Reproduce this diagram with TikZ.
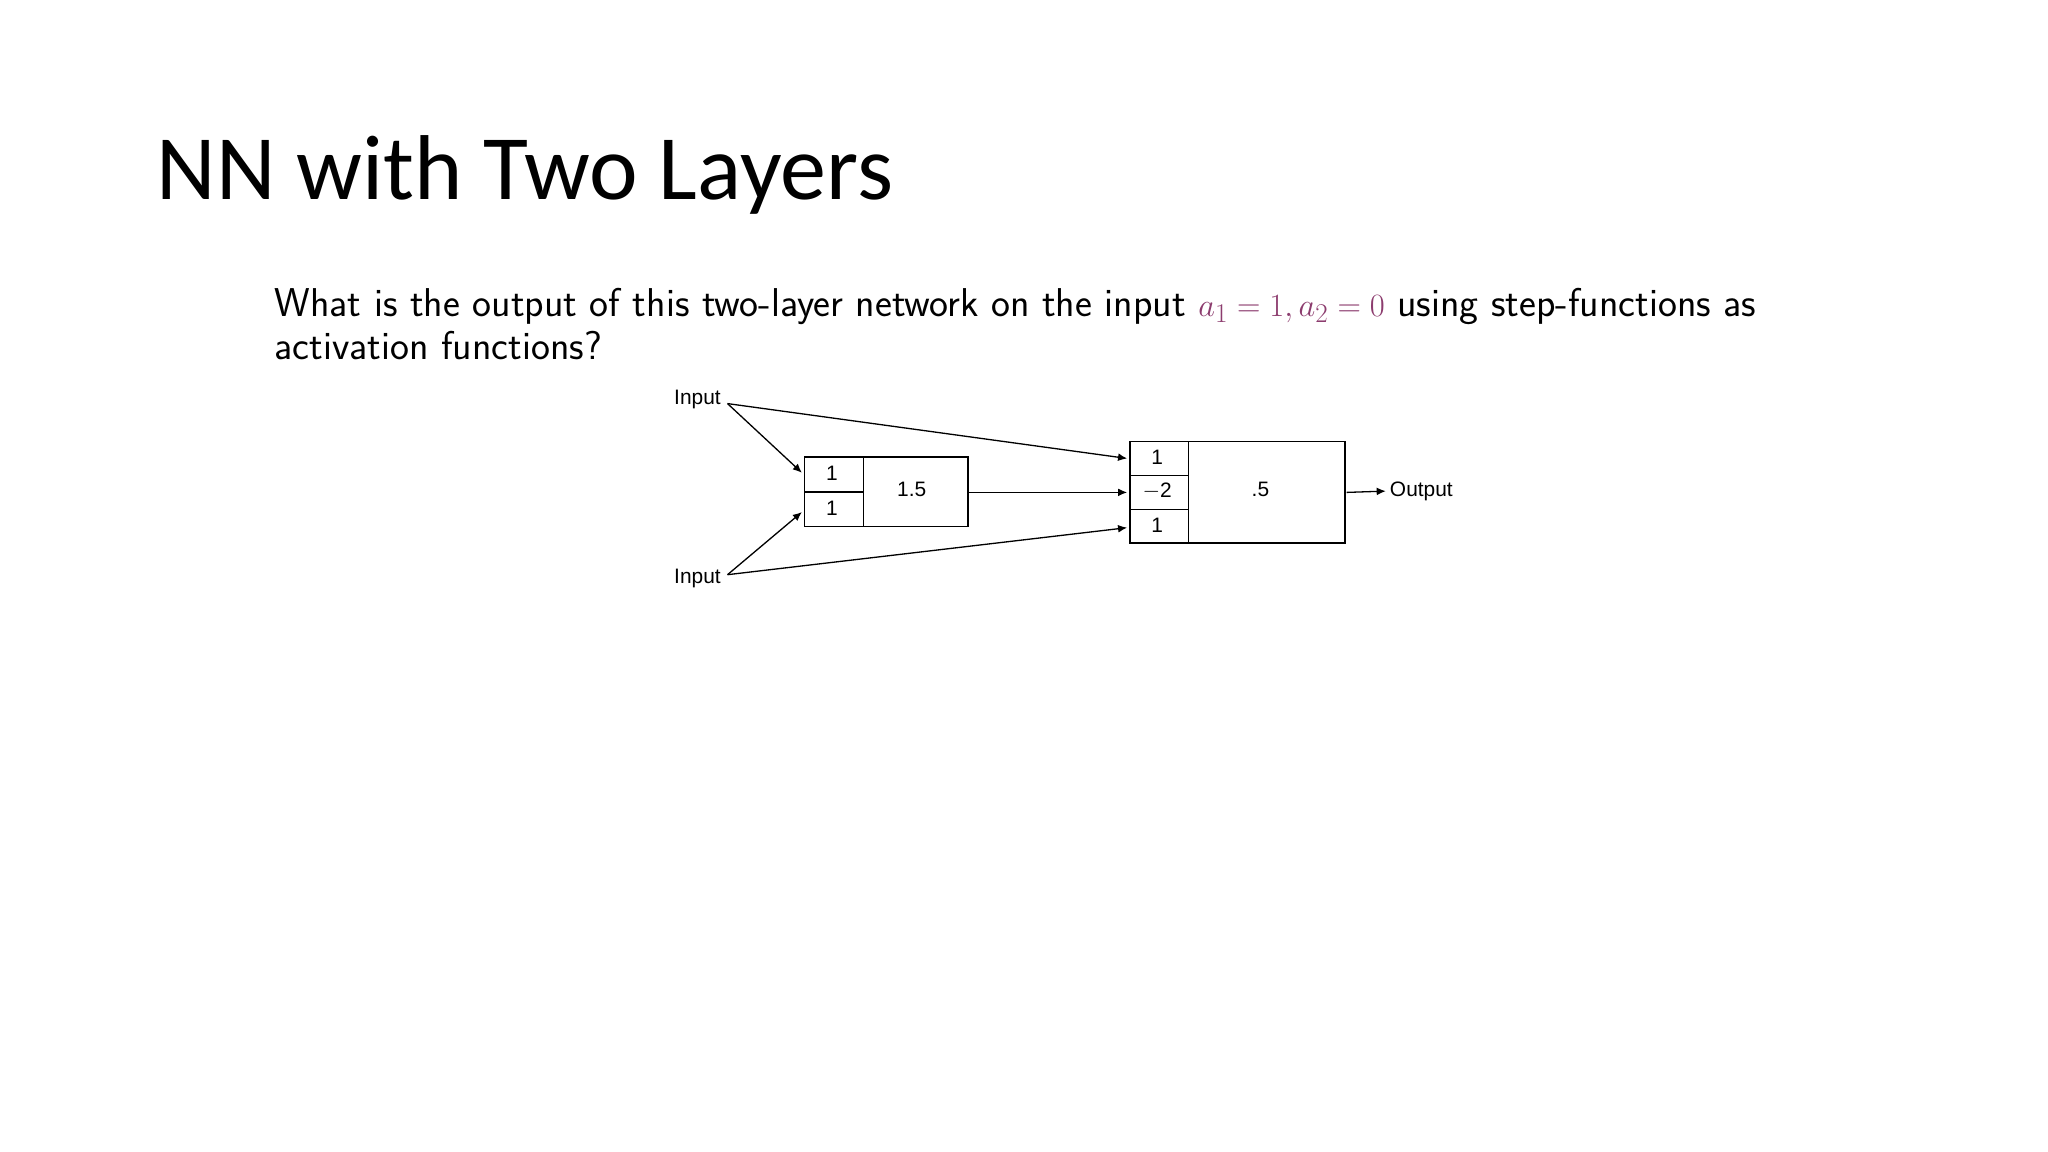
\documentclass[tikz,border=0pt]{standalone}
\usepackage{fontspec}
\newfontfamily\titlefont{Carlito}
\newfontfamily\diagfont{Liberation Sans}
\usetikzlibrary{arrows.meta}
\definecolor{mathpurple}{RGB}{140,60,110}
\tikzset{
  box/.style={draw, line width=1.3pt},
  lab/.style={font=\diagfont\fontsize{16}{19}\selectfont, inner sep=0pt},
  conn/.style={line width=1pt, -{Latex[length=7pt,width=6pt]}}
}
\begin{document}
\begin{tikzpicture}[x=1pt,y=-1pt]
\useasboundingbox (0,0) rectangle (1568,882);
\node[anchor=base west, inner sep=0pt, font=\titlefont\fontsize{70.5}{76}\selectfont] (title) at (120,153) {NN with Two Layers};
\node[anchor=base west, inner sep=0pt, font=\sffamily\fontsize{30.8}{36}\selectfont] (q1) at (210,242)
 {What is the output of this two-layer network on the input \textcolor{mathpurple}{$a_1=1, a_2=0$} using step-functions as};
\node[anchor=base west, inner sep=0pt, font=\sffamily\fontsize{30.8}{36}\selectfont] (q2) at (210,275) {activation functions?};
% inputs
\node[lab, anchor=east] (in1) at (552,306) {Input};
\node[lab, anchor=east] (in2) at (552,443) {Input};
% box1
\draw[box] (616,350) rectangle (741,403);
\draw[box] (661,350) -- (661,403) (616,376.5) -- (661,376.5);
\node[lab] (w11) at (637,362) {1};
\node[lab] (w12) at (637,389) {1};
\node[lab] (t1) at (698,375) {1.5};
\coordinate (b1a) at (614,362);
\coordinate (b1b) at (614,392);
\coordinate (b1r) at (741,377);
% box2
\draw[box] (865,338) rectangle (1030,416);
\draw[box] (910,338) -- (910,416) (865,364) -- (910,364) (865,390) -- (910,390);
\node[lab] (w21) at (886,350) {1};
\node[lab] (w22) at (886,376) {$-$2};
\node[lab] (w23) at (886,402) {1};
\node[lab] (t2) at (965,375) {.5};
\coordinate (b2a) at (863,351);
\coordinate (b2b) at (863,377);
\coordinate (b2c) at (863,404);
\coordinate (b2r) at (1031,377);
\node[lab, anchor=west] (out) at (1064,376) {Output};
% connectors
\draw[conn] (in1.east) ++(5,3) coordinate (s1) (s1) -- (b1a);
\draw[conn] (s1) -- (b2a);
\draw[conn] (in2.east) ++(5,-3) coordinate (s2) (s2) -- (b1b);
\draw[conn] (s2) -- (b2c);
\draw[conn] (b1r) -- (b2b);
\draw[conn] (b2r) -- ([xshift=-3pt]out.west);
\end{tikzpicture}
\end{document}
